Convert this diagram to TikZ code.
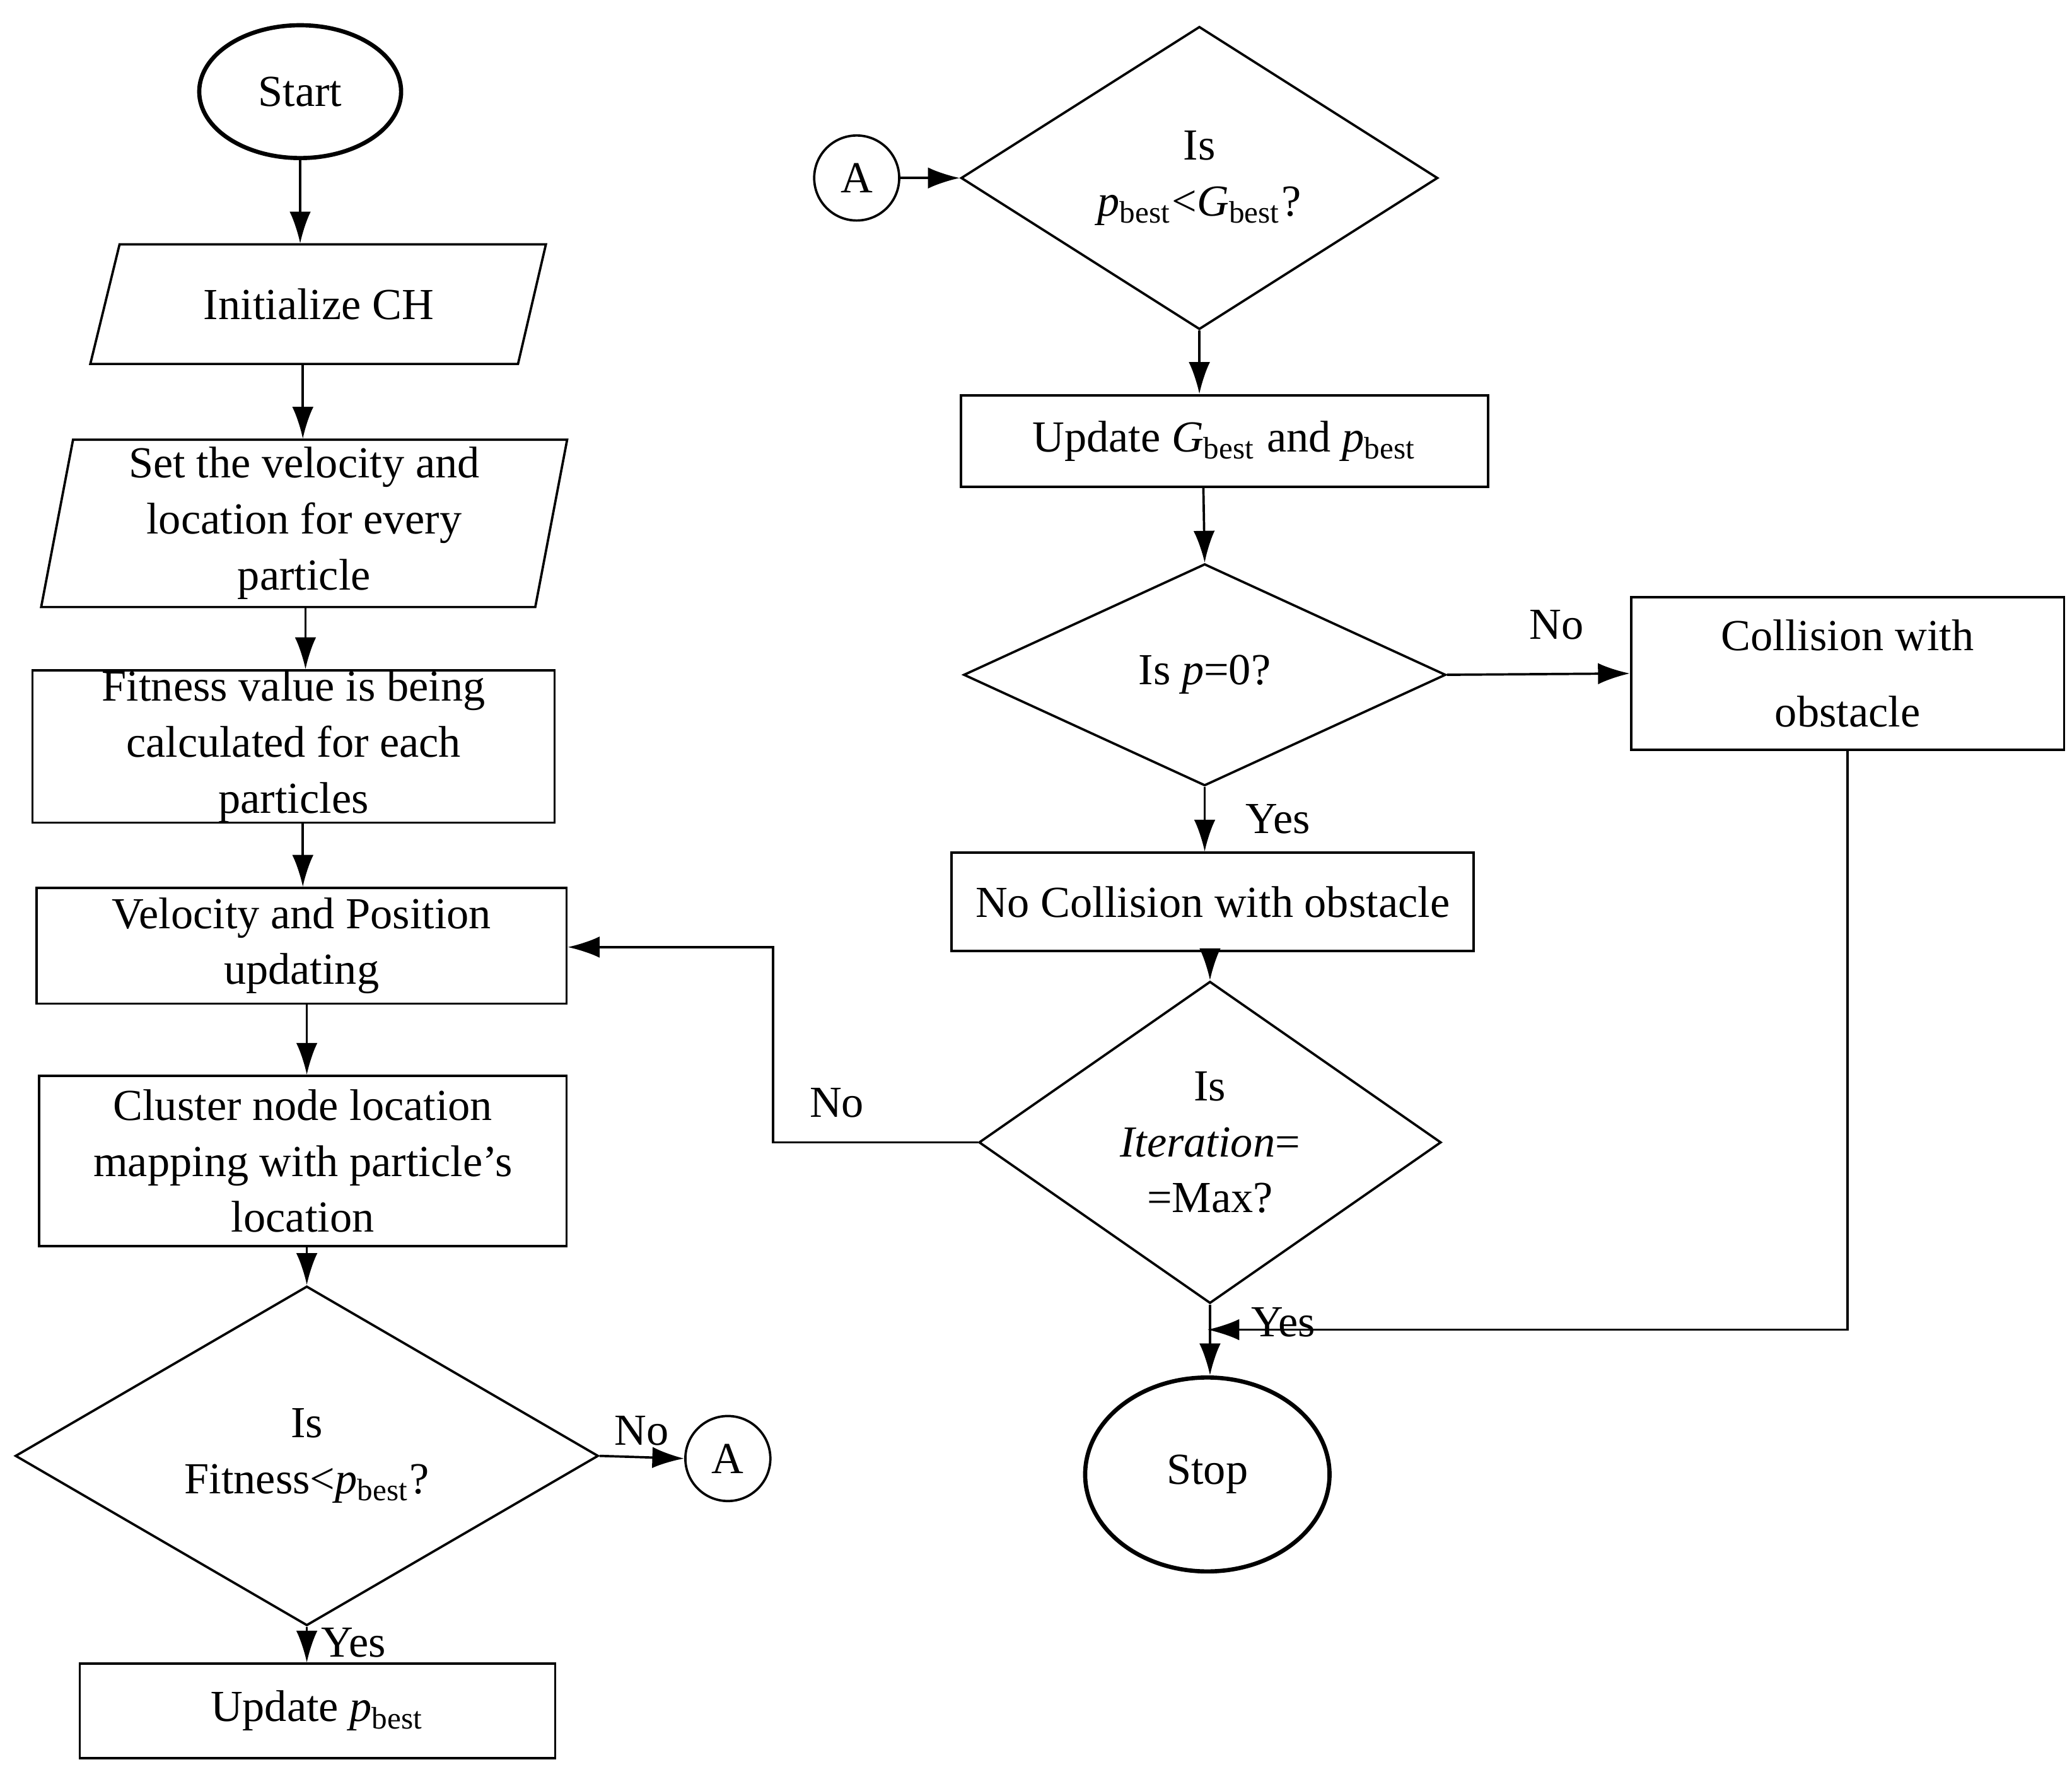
\documentclass[tikz,border=0pt]{standalone}
\usepackage{fontspec}
\setmainfont{Liberation Serif}
\usetikzlibrary{shapes.geometric,arrows.meta}
\begin{document}
\begin{tikzpicture}[x=0.1mm,y=-0.1mm,
  every node/.style={font=\fontsize{9.5}{12}\selectfont, align=center, inner sep=0pt},
  box/.style={draw, line width=0.5pt, rectangle},
  dia/.style={draw, line width=0.5pt, diamond},
  term/.style={draw, line width=0.9pt, ellipse},
  con/.style={draw, line width=0.5pt, circle, minimum size=6.4mm},
  arr/.style={line width=0.5pt, -{Latex[length=2.4mm,width=1.6mm]}},
  lbl/.style={font=\fontsize{9.5}{12}\selectfont}]
\useasboundingbox (0,0) rectangle (1560,1330);
\node[term, minimum width=15.2mm, minimum height=10mm] (start) at (226,69) {Start};
% parallelograms
\draw[line width=0.5pt] (90,184) -- (411,184) -- (390,274) -- (68,274) -- cycle;
\node[minimum width=32mm, minimum height=9mm] (init) at (240,229) {Initialize CH};
\draw[line width=0.5pt] (55,331) -- (427,331) -- (403,457) -- (31,457) -- cycle;
\node[minimum width=37mm, minimum height=12.6mm] (setv) at (229,394) {Set the velocity and\\location for every\\particle};
\node[box, minimum width=39.3mm, minimum height=11mm] (fit) at (221,562) {Fitness value is being\\calculated for each\\particles};
\node[box, minimum width=39.9mm, minimum height=8.7mm] (vel) at (227,712) {Velocity and Position\\updating};
\node[box, minimum width=39.7mm, minimum height=12.8mm] (clus) at (228,874) {Cluster node location\\mapping with particle's\\location};
\node[dia, minimum width=43.9mm, minimum height=20mm] (dfit) at (231,1096) {Is\\Fitness<\textit{p}\textsubscript{best}?};
\node[con] (a1) at (548,1098) {A};
\node[box, minimum width=35.8mm, minimum height=7.1mm] (upb) at (239,1288) {Update \textit{p}\textsubscript{best}};
% right column
\node[con] (a2) at (645,134) {A};
\node[dia, minimum width=35.9mm, minimum height=22.8mm] (d1) at (903,134) {Is\\\textit{p}\textsubscript{best}<\textit{G}\textsubscript{best}?};
\node[box, minimum width=39.7mm, minimum height=6.9mm] (upg) at (922,332) {Update \textit{G}\textsubscript{best} and \textit{p}\textsubscript{best}};
\node[dia, minimum width=36.3mm, minimum height=16.7mm] (dp) at (907,508) {Is \textit{p}=0?};
\node[box, minimum width=32.6mm, minimum height=11.5mm] (col) at (1391,507) {Collision with\\[1.5mm]obstacle};
\node[box, minimum width=39.3mm, minimum height=7.4mm] (nocol) at (913,679) {No Collision with obstacle};
\node[dia, minimum width=34.8mm, minimum height=18mm] (dit) at (911,860) {Is\\\textit{Iteration}=\\=Max?};
\node[term, minimum width=18.4mm, minimum height=14.6mm] (stop) at (909,1110) {Stop};
% arrows
\draw[arr] (start.south) -- (start.south |- init.north);
\draw[arr] (init.south -| 228,0) -- (setv.north -| 228,0);
\draw[arr] (setv.south -| 230,0) -- (fit.north -| 230,0);
\draw[arr] (fit.south -| 228,0) -- (vel.north -| 228,0);
\draw[arr] (vel.south -| 231,0) -- (clus.north -| 231,0);
\draw[arr] (clus.south -| 231,0) -- (dfit.north);
\draw[arr] (dfit.south) -- (upb.north -| dfit.south) node[lbl, pos=0.45, right=1mm] {Yes};
\draw[arr] (dfit.east) -- (a1.west) node[lbl, midway, above=0.8mm] {No};
\draw[arr] (a2.east) -- (d1.west);
\draw[arr] (d1.south) -- (upg.north -| d1.south);
\draw[arr] (upg.south -| 906,0) -- (dp.north);
\draw[arr] (dp.east) -- (col.west) node[lbl, pos=0.6, above=2.5mm] {No};
\draw[arr] (dp.south) -- (nocol.north -| dp.south) node[lbl, midway, right=3mm] {Yes};
\draw[arr] (nocol.south -| 911,0) -- (dit.north);
\draw[arr] (dit.south) -- (stop.north -| dit.south) node[lbl, pos=0.25, right=3mm] {Yes};
\draw[arr] (dit.west) -- (582,860) -- (582,713) -- (vel.east |- 0,713);
\node[lbl] (no3) at (630,830) {No};
\draw[arr] (col.south) -- (1391,1001) -- (909,1001);
\end{tikzpicture}
\end{document}
